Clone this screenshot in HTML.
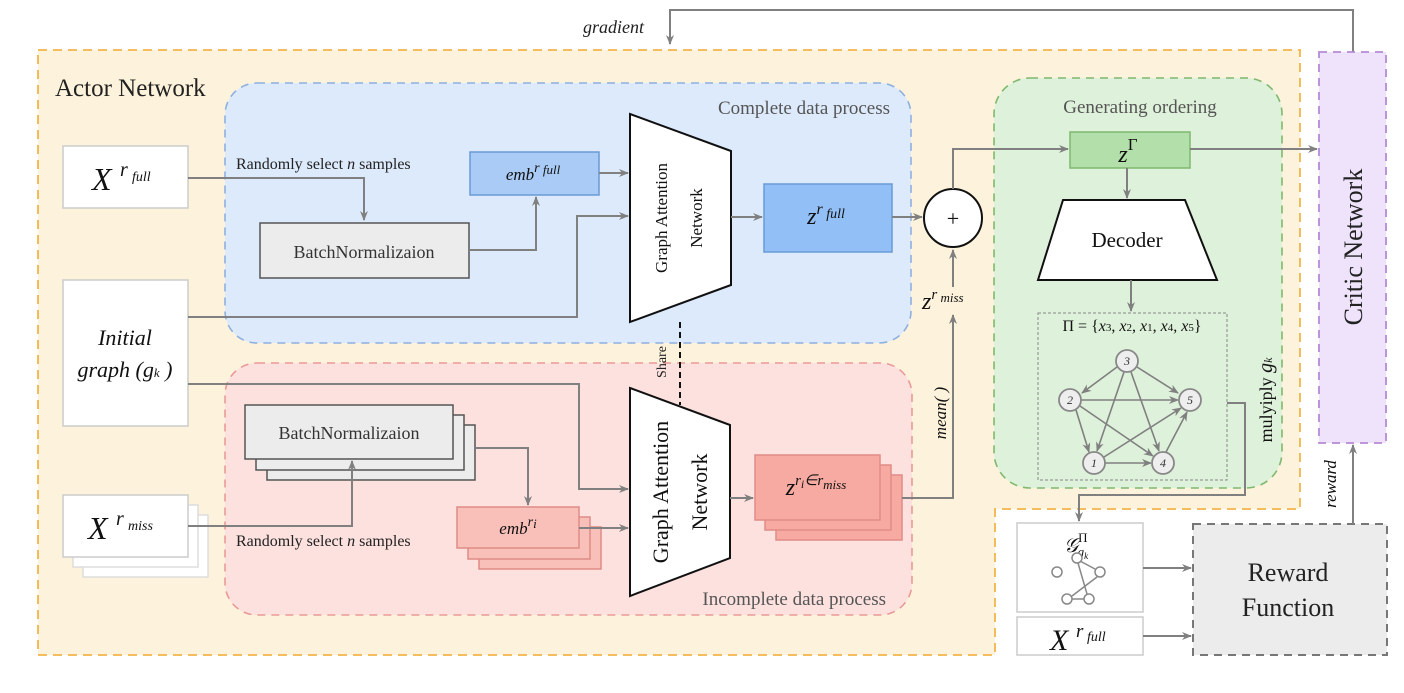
<!DOCTYPE html>
<html><head><meta charset="utf-8"><style>
html,body{margin:0;padding:0;background:#fff;}
svg{display:block;}
text{font-family:"Liberation Serif",serif;}
.it{font-style:italic;}
</style></head><body>
<svg width="1404" height="693" viewBox="0 0 1404 693" xmlns="http://www.w3.org/2000/svg">
<defs>
<marker id="a" markerWidth="10" markerHeight="8" refX="9" refY="4" orient="auto" markerUnits="userSpaceOnUse">
<path d="M0,0 L10,4 L0,8 L3,4 z" fill="#808080"/></marker>
</defs>
<!-- yellow actor region -->
<path d="M38,50 H1300 V509 H995 V655 H38 Z" fill="#fdf3dc" stroke="#f2b44a" stroke-width="1.8" stroke-dasharray="9,6"/>
<text x="55" y="96" font-size="25" fill="#222">Actor Network</text>
<!-- gradient -->
<polyline points="1353,52 1353,10 670,10 670,44" fill="none" stroke="#808080" stroke-width="2" marker-end="url(#a)"/>
<text x="583" y="33" font-size="18" class="it" fill="#222">gradient</text>
<!-- critic -->
<rect x="1319" y="52" width="67" height="391" fill="#efe3fc" stroke="#b58ad6" stroke-width="1.8" stroke-dasharray="8,6"/>
<text transform="translate(1362,247) rotate(-90)" text-anchor="middle" font-size="26" fill="#222">Critic Network</text>
<!-- blue region -->
<rect x="225" y="83" width="686" height="260" rx="32" fill="#ddeafb" stroke="#8fb0e0" stroke-width="1.6" stroke-dasharray="8,6"/>
<text x="890" y="114" text-anchor="end" font-size="19" fill="#555">Complete data process</text>
<!-- red region -->
<rect x="225" y="363" width="687" height="252" rx="32" fill="#fce1df" stroke="#e99a96" stroke-width="1.6" stroke-dasharray="8,6"/>
<text x="886" y="605" text-anchor="end" font-size="19" fill="#555">Incomplete data process</text>
<!-- green region -->
<rect x="994" y="78" width="288" height="410" rx="36" fill="#def1da" stroke="#7fb86f" stroke-width="1.6" stroke-dasharray="8,6"/>
<text x="1140" y="113" text-anchor="middle" font-size="19" fill="#555">Generating ordering</text>

<!-- X full -->
<rect x="63" y="146" width="125" height="62" fill="#fff" stroke="#ccc" stroke-width="1.5"/>
<text x="92" y="190" font-size="32" class="it" fill="#111">X</text>
<text x="120" y="176" font-size="20" class="it" fill="#111">r</text>
<text x="132" y="181" font-size="14" class="it" fill="#111">full</text>
<!-- initial graph -->
<rect x="63" y="280" width="125" height="146" fill="#fff" stroke="#ccc" stroke-width="1.5"/>
<text x="125" y="345" text-anchor="middle" font-size="22" class="it" fill="#111">Initial</text>
<text x="125" y="377" text-anchor="middle" font-size="22" class="it" fill="#111">graph (<tspan>g</tspan><tspan font-size="13">k</tspan> )</text>
<!-- X miss stack -->
<rect x="83" y="515" width="125" height="62" fill="#fff" stroke="#ddd" stroke-width="1.5"/>
<rect x="73" y="505" width="125" height="62" fill="#fff" stroke="#ddd" stroke-width="1.5"/>
<rect x="63" y="495" width="125" height="62" fill="#fff" stroke="#ccc" stroke-width="1.5"/>
<text x="88" y="539" font-size="32" class="it" fill="#111">X</text>
<text x="116" y="525" font-size="20" class="it" fill="#111">r</text>
<text x="128" y="530" font-size="14" class="it" fill="#111">miss</text>

<!-- top flows -->
<polyline points="188,178 364,178 364,220" fill="none" stroke="#808080" stroke-width="2" marker-end="url(#a)"/>
<text x="236" y="169" font-size="16" fill="#222">Randomly select <tspan class="it">n</tspan> samples</text>
<rect x="260" y="223" width="209" height="55" fill="#ececec" stroke="#555" stroke-width="1.5"/>
<text x="364" y="258" text-anchor="middle" font-size="18" fill="#333">BatchNormalizaion</text>
<polyline points="469,250 536,250 536,197" fill="none" stroke="#808080" stroke-width="2" marker-end="url(#a)"/>
<rect x="470" y="152" width="129" height="43" fill="#a9cbf6" stroke="#6a9ad6" stroke-width="1.5"/>
<text x="533" y="180" text-anchor="middle" font-size="17" class="it" fill="#111">emb<tspan dy="-8" font-size="14">r</tspan><tspan dy="2" font-size="13"> full</tspan></text>
<line x1="599" y1="173" x2="628" y2="173" stroke="#808080" stroke-width="2" marker-end="url(#a)"/>
<polyline points="188,317 577,317 577,216 628,216" fill="none" stroke="#808080" stroke-width="2" marker-end="url(#a)"/>
<!-- top GAT -->
<polygon points="630,114 731,151 731,285 630,322" fill="#fff" stroke="#111" stroke-width="2"/>
<text transform="translate(667,218) rotate(-90)" text-anchor="middle" font-size="17" fill="#111">Graph Attention</text>
<text transform="translate(702,218) rotate(-90)" text-anchor="middle" font-size="17" fill="#111">Network</text>
<line x1="731" y1="217" x2="762" y2="217" stroke="#808080" stroke-width="2" marker-end="url(#a)"/>
<rect x="764" y="184" width="128" height="68" fill="#93bff7" stroke="#6a9ad6" stroke-width="1.5"/>
<text x="826" y="224" text-anchor="middle" font-size="24" class="it" fill="#111">z<tspan dy="-10" font-size="16">r</tspan><tspan dy="4" font-size="14"> full</tspan></text>
<line x1="892" y1="217" x2="922" y2="217" stroke="#808080" stroke-width="2" marker-end="url(#a)"/>
<!-- plus -->
<circle cx="953" cy="218" r="29" fill="#fff" stroke="#111" stroke-width="2"/>
<text x="953" y="226" text-anchor="middle" font-size="22" font-family="Liberation Sans" fill="#111">+</text>
<polyline points="953,189 953,149 1068,149" fill="none" stroke="#808080" stroke-width="2" marker-end="url(#a)"/>
<!-- share -->
<line x1="680" y1="322" x2="680" y2="405" stroke="#111" stroke-width="2" stroke-dasharray="6,4"/>
<text transform="translate(666,362) rotate(-90)" text-anchor="middle" font-size="14" fill="#222">Share</text>

<!-- bottom flows -->
<rect x="267" y="425" width="208" height="55" fill="#ececec" stroke="#555" stroke-width="1.5"/>
<rect x="256" y="415" width="208" height="55" fill="#ececec" stroke="#555" stroke-width="1.5"/>
<rect x="245" y="405" width="208" height="54" fill="#ececec" stroke="#555" stroke-width="1.5"/>
<text x="349" y="439" text-anchor="middle" font-size="18" fill="#333">BatchNormalizaion</text>
<polyline points="188,526 352,526 352,461" fill="none" stroke="#808080" stroke-width="2" marker-end="url(#a)"/>
<text x="236" y="546" font-size="16" fill="#222">Randomly select <tspan class="it">n</tspan> samples</text>
<polyline points="475,448 528,448 528,505" fill="none" stroke="#808080" stroke-width="2" marker-end="url(#a)"/>
<rect x="479" y="527" width="122" height="42" fill="#f9c0ba" stroke="#e08c86" stroke-width="1.5"/>
<rect x="468" y="517" width="122" height="42" fill="#f9c0ba" stroke="#e08c86" stroke-width="1.5"/>
<rect x="457" y="507" width="122" height="41" fill="#f9c0ba" stroke="#e08c86" stroke-width="1.5"/>
<text x="518" y="534" text-anchor="middle" font-size="17" class="it" fill="#111">emb<tspan dy="-8" font-size="14">r</tspan><tspan dy="2" font-size="13">i</tspan></text>
<line x1="579" y1="528" x2="628" y2="528" stroke="#808080" stroke-width="2" marker-end="url(#a)"/>
<polyline points="188,384 579,384 579,489 628,489" fill="none" stroke="#808080" stroke-width="2" marker-end="url(#a)"/>
<!-- bottom GAT -->
<polygon points="630,388 730,425 730,558 630,596" fill="#fff" stroke="#111" stroke-width="2"/>
<text transform="translate(668,492) rotate(-90)" text-anchor="middle" font-size="22" fill="#111">Graph Attention</text>
<text transform="translate(707,492) rotate(-90)" text-anchor="middle" font-size="22" fill="#111">Network</text>
<line x1="730" y1="498" x2="753" y2="498" stroke="#808080" stroke-width="2" marker-end="url(#a)"/>
<rect x="776" y="475" width="126" height="65" fill="#f7aaa2" stroke="#e08c86" stroke-width="1.5"/>
<rect x="765" y="465" width="126" height="65" fill="#f7aaa2" stroke="#e08c86" stroke-width="1.5"/>
<rect x="755" y="455" width="125" height="65" fill="#f7aaa2" stroke="#e08c86" stroke-width="1.5"/>
<text x="816" y="495" text-anchor="middle" font-size="24" class="it" fill="#111">z<tspan dy="-10" font-size="15">r</tspan><tspan dy="3" font-size="12">i</tspan><tspan dy="-3" font-size="15">∈r</tspan><tspan dy="4" font-size="13">miss</tspan></text>
<polyline points="902,498 953,498 953,315" fill="none" stroke="#808080" stroke-width="2" marker-end="url(#a)"/>
<line x1="953" y1="287" x2="953" y2="250" stroke="#808080" stroke-width="2" marker-end="url(#a)"/>
<text x="922" y="309" font-size="24" class="it" fill="#111">z<tspan dy="-10" font-size="15">r</tspan><tspan dy="3" font-size="13"> miss</tspan></text>
<text transform="translate(946,413) rotate(-90)" text-anchor="middle" font-size="17" class="it" fill="#111">mean( )</text>

<!-- generating ordering -->
<rect x="1070" y="132" width="120" height="36" fill="#b3dfaa" stroke="#7fb86f" stroke-width="1.5"/>
<text x="1128" y="162" text-anchor="middle" font-size="24" class="it" fill="#111">z<tspan dy="-12" font-size="17" font-style="normal">Γ</tspan></text>
<line x1="1190" y1="149" x2="1317" y2="149" stroke="#808080" stroke-width="2" marker-end="url(#a)"/>
<line x1="1127" y1="168" x2="1127" y2="198" stroke="#808080" stroke-width="2" marker-end="url(#a)"/>
<polygon points="1063,200 1185,200 1217,280 1038,280" fill="#fff" stroke="#111" stroke-width="2"/>
<text x="1127" y="247" text-anchor="middle" font-size="21" fill="#111">Decoder</text>
<line x1="1131" y1="280" x2="1131" y2="311" stroke="#808080" stroke-width="2" marker-end="url(#a)"/>
<rect x="1038" y="313" width="189" height="167" fill="none" stroke="#888" stroke-width="1" stroke-dasharray="3,2"/>
<text x="1132" y="331" text-anchor="middle" font-size="16" fill="#111">Π = {<tspan class="it">x</tspan><tspan font-size="11">3</tspan>, <tspan class="it">x</tspan><tspan font-size="11">2</tspan>, <tspan class="it">x</tspan><tspan font-size="11">1</tspan>, <tspan class="it">x</tspan><tspan font-size="11">4</tspan>, <tspan class="it">x</tspan><tspan font-size="11">5</tspan>}</text>
<g stroke="#808080" stroke-width="1.6" fill="none">
<line x1="1117" y1="367" x2="1082" y2="393" marker-end="url(#a)"/>
<line x1="1137" y1="367" x2="1178" y2="393" marker-end="url(#a)"/>
<line x1="1124" y1="372" x2="1097" y2="451" marker-end="url(#a)"/>
<line x1="1131" y1="372" x2="1159" y2="451" marker-end="url(#a)"/>
<line x1="1081" y1="400" x2="1178" y2="400" marker-end="url(#a)"/>
<line x1="1076" y1="410" x2="1089" y2="452" marker-end="url(#a)"/>
<line x1="1080" y1="406" x2="1153" y2="456" marker-end="url(#a)"/>
<line x1="1104" y1="457" x2="1181" y2="408" marker-end="url(#a)"/>
<line x1="1105" y1="463" x2="1151" y2="463" marker-end="url(#a)"/>
<line x1="1166" y1="452" x2="1187" y2="412" marker-end="url(#a)"/>
</g>
<g fill="#eee" stroke="#888" stroke-width="1.8">
<circle cx="1127" cy="361" r="11"/><circle cx="1070" cy="400" r="11"/><circle cx="1190" cy="400" r="11"/><circle cx="1094" cy="463" r="11"/><circle cx="1163" cy="463" r="11"/>
</g>
<g font-size="12" class="it" fill="#333" text-anchor="middle">
<text x="1127" y="365">3</text><text x="1070" y="404">2</text><text x="1190" y="404">5</text><text x="1094" y="467">1</text><text x="1163" y="467">4</text>
</g>
<text transform="translate(1272,400) rotate(-90)" text-anchor="middle" font-size="18" fill="#111">mulyiply <tspan class="it" font-size="20">g</tspan><tspan class="it" font-size="12">k</tspan></text>
<polyline points="1227,403 1245,403 1245,495 1079,495 1079,521" fill="none" stroke="#808080" stroke-width="2" marker-end="url(#a)"/>

<!-- bottom right -->
<rect x="1017" y="523" width="126" height="89" fill="#fff" stroke="#ccc" stroke-width="1.5"/>
<text x="1076" y="552" text-anchor="middle" font-size="20" class="it" fill="#111">𝒢<tspan dy="-10" font-size="13" font-style="normal">Π</tspan><tspan dx="-10" dy="14" font-size="13">g</tspan><tspan dy="3" font-size="9">k</tspan></text>
<g stroke="#888" stroke-width="1.5" fill="none">
<line x1="1080" y1="561" x2="1095" y2="569"/><line x1="1078" y1="563" x2="1087" y2="594"/><line x1="1097" y1="577" x2="1072" y2="596"/><line x1="1072" y1="599" x2="1084" y2="599"/>
<circle cx="1077" cy="558" r="5" fill="#fff"/><circle cx="1057" cy="572" r="5" fill="#fff"/><circle cx="1100" cy="572" r="5" fill="#fff"/><circle cx="1067" cy="599" r="5" fill="#fff"/><circle cx="1089" cy="599" r="5" fill="#fff"/>
</g>
<rect x="1017" y="617" width="126" height="38" fill="#fff" stroke="#ccc" stroke-width="1.5"/>
<text x="1050" y="650" font-size="30" class="it" fill="#111">X</text>
<text x="1076" y="637" font-size="19" class="it" fill="#111">r</text>
<text x="1087" y="641" font-size="14" class="it" fill="#111">full</text>
<line x1="1143" y1="568" x2="1191" y2="568" stroke="#808080" stroke-width="2" marker-end="url(#a)"/>
<line x1="1143" y1="636" x2="1191" y2="636" stroke="#808080" stroke-width="2" marker-end="url(#a)"/>
<rect x="1193" y="524" width="194" height="131" fill="#ececec" stroke="#777" stroke-width="2" stroke-dasharray="8,6"/>
<text x="1288" y="581" text-anchor="middle" font-size="26" fill="#222">Reward</text>
<text x="1288" y="616" text-anchor="middle" font-size="26" fill="#222">Function</text>
<line x1="1353" y1="524" x2="1353" y2="445" stroke="#808080" stroke-width="2" marker-end="url(#a)"/>
<text transform="translate(1336,484) rotate(-90)" text-anchor="middle" font-size="17" class="it" fill="#111">reward</text>
</svg>
</body></html>
